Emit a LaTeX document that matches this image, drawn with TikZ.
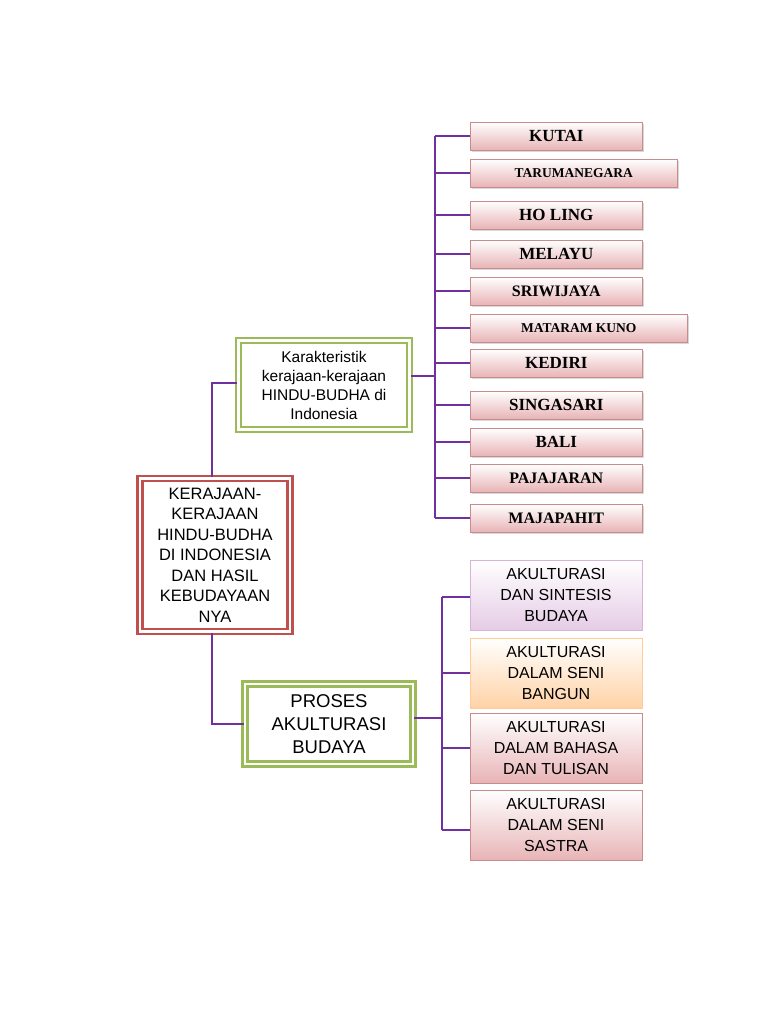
\documentclass[tikz,border=0pt]{standalone}
\usepackage{fontspec}
\setmainfont{Liberation Sans}
\newfontfamily\kfont{Liberation Serif}
\usetikzlibrary{shadows}
\definecolor{ln}{RGB}{112,48,160}
\definecolor{pk}{RGB}{232,180,182}
\definecolor{pkb}{RGB}{200,140,140}
\definecolor{rd}{RGB}{192,80,77}
\definecolor{gr}{RGB}{155,187,89}
\tikzset{
 conn/.style={draw=ln,line width=2.5pt},
 kbox/.style={draw=pkb,line width=0.6pt,top color=white,bottom color=pk,drop shadow={shadow xshift=2pt,shadow yshift=-2pt,fill=gray!60},align=center,inner sep=0pt},
 abox/.style={draw=pkb,line width=0.6pt,top color=white,bottom color=pk,minimum width=172pt,minimum height=70pt,align=center,font=\fontsize{16}{21}\selectfont,inner sep=0pt},
 dbl/.style={double,double distance=2.5pt,line width=2.5pt,align=center,inner sep=0pt}
}
\begin{document}
\begin{tikzpicture}[x=1pt,y=-1pt]
\useasboundingbox (0,0) rectangle (768,1024);
\fill[white] (0,0) rectangle (768,1024);
\node[dbl,draw=rd,minimum width=150pt,minimum height=153pt,font=\fontsize{16.5}{20.5}\selectfont] (root) at (215,555) {KERAJAAN-\\KERAJAAN\\HINDU-BUDHA\\DI INDONESIA\\DAN HASIL\\KEBUDAYAAN\\NYA};
\node[dbl,draw=gr,minimum width=171pt,minimum height=89pt,font=\fontsize{15.5}{19}\selectfont] (kar) at (324,385) {Karakteristik\\kerajaan-kerajaan\\HINDU-BUDHA di\\Indonesia};
\node[dbl,draw=gr,minimum width=168pt,minimum height=80pt,font=\fontsize{18.5}{23}\selectfont] (pro) at (329,724) {PROSES\\AKULTURASI\\BUDAYA};
\foreach \n/\t/\y/\w/\s in {k1/KUTAI/136/172/17, k2/TARUMANEGARA/173/207/13.5, k3/HO LING/215/172/17, k4/MELAYU/254/172/17, k5/SRIWIJAYA/291/172/16, k6/MATARAM KUNO/328/217/13.5, k7/KEDIRI/363/172/17, k8/SINGASARI/405/172/17, k9/BALI/442/172/17, k10/PAJAJARAN/478/172/16, k11/MAJAPAHIT/518/172/16}{
 \node[kbox,anchor=west,minimum width=\w pt,minimum height=28pt,font=\kfont\bfseries\fontsize{\s}{\s}\selectfont] (\n) at (470,\y) {\t};
}
\coordinate (kt) at (435,136);
\coordinate (kb) at (435,518);
\draw[conn] (kt) -- (kb);
\foreach \n in {k1,k2,k3,k4,k5,k6,k7,k8,k9,k10,k11}{\draw[conn] (\n.west) -- (\n.west -| kt);}
\draw[conn] (kar.east |- 0,376) -- (435,376);
\node[abox,top color=white,bottom color=violet!20,draw=violet!30] (a1) at (556,595) {AKULTURASI\\DAN SINTESIS\\BUDAYA};
\node[abox,top color=white,bottom color=orange!35,draw=orange!40] (a2) at (556,673) {AKULTURASI\\DALAM SENI\\BANGUN};
\node[abox] (a3) at (556,748) {AKULTURASI\\DALAM BAHASA\\DAN TULISAN};
\node[abox] (a4) at (556,825) {AKULTURASI\\DALAM SENI\\SASTRA};
\coordinate (at) at (442,597);
\draw[conn] (at) -- (442,830);
\draw[conn] (a1.west |- 0,597) -- (at);
\draw[conn] (a2.west) -- (a2.west -| at);
\draw[conn] (a3.west) -- (a3.west -| at);
\draw[conn] (a4.west |- 0,830) -- (442,830);
\draw[conn] (pro.east |- 0,718) -- (442,718);
\draw[conn] (root.north -| 212,0) -- (212,383) -- (kar.west |- 0,383);
\draw[conn] (root.south -| 212,0) -- (212,724) -- (pro.west);
\end{tikzpicture}
\end{document}
